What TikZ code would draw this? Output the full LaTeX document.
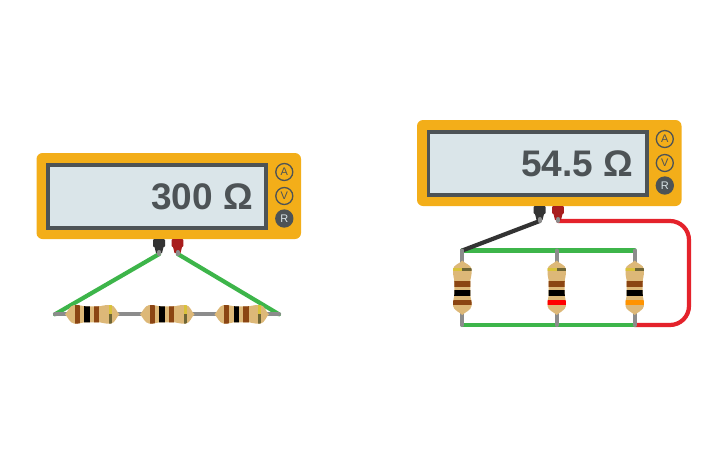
\documentclass[tikz,border=0pt]{standalone}
\usepackage{fontspec}
\setmainfont{Liberation Sans}
\pgfdeclarelayer{wires}
\pgfsetlayers{wires,main}
\definecolor{mbody}{HTML}{F3AE19}
\definecolor{mdark}{HTML}{4D5356}
\definecolor{mscreen}{HTML}{DAE5E9}
\definecolor{rtan}{HTML}{DDB878}
\definecolor{rbrown}{HTML}{8B4513}
\definecolor{rgold}{HTML}{D9C23A}
\definecolor{rdarkgold}{HTML}{6E6535}
\definecolor{rred}{HTML}{FF0000}
\definecolor{rorange}{HTML}{FF9300}
\definecolor{lead}{HTML}{8C8C8C}
\definecolor{wgreen}{HTML}{3DB54A}
\definecolor{wred}{HTML}{E4222B}
\definecolor{wblack}{HTML}{333333}
\definecolor{pblack}{HTML}{333333}
\definecolor{pred}{HTML}{A81C1C}
\newcommand{\resshape}{(0,0) .. controls (2,-1.5) and (5,-9.2) .. (9,-9.2)
  -- (13,-9.2) .. controls (16,-9.2) and (17,-8) .. (21,-8)
  -- (33,-8) .. controls (37,-8) and (38,-9.2) .. (41,-9.2)
  -- (46,-9.2) .. controls (50,-9.2) and (52,-1.5) .. (54.5,0)
  .. controls (52,1.5) and (50,9.2) .. (46,9.2)
  -- (41,9.2) .. controls (38,9.2) and (37,8) .. (33,8)
  -- (21,8) .. controls (17,8) and (16,9.2) .. (13,9.2)
  -- (9,9.2) .. controls (5,9.2) and (2,1.5) .. (0,0) -- cycle}
\tikzset{
  x=1pt,y=-1pt,
  wire/.style={line width=4.2pt,line cap=round,line join=round},
  greenwire/.style={wire,wgreen},
  redwire/.style={wire,wred,rounded corners=19pt},
  blackwire/.style={wire,wblack},
  meterbody/.style={draw=none,fill=mbody,rounded corners=6pt,minimum width=264.5pt,minimum height=86pt,inner sep=0pt},
  meterscreen/.style={draw=mdark,line width=3.6pt,fill=mscreen,minimum width=218.4pt,minimum height=63.4pt,inner sep=0pt},
  readout/.style={text=mdark,font=\bfseries\fontsize{37}{37}\selectfont,anchor=east,inner sep=0pt},
  modeoff/.style={circle,draw=mdark,line width=1.3pt,text=mdark,font=\fontsize{11}{11}\selectfont,minimum size=17pt,inner sep=0pt},
  modeon/.style={modeoff,fill=mdark,text=mscreen},
  pics/resistor/.style={code={
    \draw[lead,line width=4pt,line cap=round] (-10,0) coordinate (-a) -- (64.5,0) coordinate (-b);
    \fill[rtan] \resshape;
    \begin{scope}
      \clip \resshape;
      \fill[#1] (9.7,-10) rectangle (14.9,10);
      \fill[black] (19,-10) rectangle (24.6,10);
      \fill[rbrown] (28.5,-10) rectangle (34.1,10);
      \fill[rgold] (43.8,-10) rectangle (46.8,0);
      \fill[rdarkgold] (43.8,0) rectangle (46.8,10);
    \end{scope}
  }},
  pics/meter/.style={code={
    \node[meterbody] (-body) at (132.25,43) {};
    \node[meterscreen] (-screen) at (120.5,43.5) {};
    \node[readout] (-read) at (216.5,43.5) {#1};
    \node[modeoff] (-a) at (247.8,19) {A};
    \node[modeoff] (-v) at (247.8,43) {V};
    \node[modeon] (-r) at (247.8,65.5) {R};
    \fill[pblack,rounded corners=1pt] (116.5,86) rectangle (128.5,94);
    \fill[pblack] (118,94) -- (127,94) -- (125.5,100) -- (119.5,100) -- cycle;
    \fill[pred,rounded corners=1pt] (135.2,86) rectangle (146.8,94);
    \fill[pred] (136.5,94) -- (145.5,94) -- (144,100) -- (138,100) -- cycle;
    \draw[lead,line width=4pt,line cap=round] (122.7,99) -- (122.7,101) coordinate (-blacktip);
    \draw[lead,line width=4pt,line cap=round] (141.3,99) -- (141.3,101) coordinate (-redtip);
  }}
}
\begin{document}
\begin{tikzpicture}
\useasboundingbox (0,0) rectangle (725,453);
% left circuit
\pic (m1) at (36.5,153) {meter={300 Ω}};
\pic (r1) at (65,314.3) {resistor=rbrown};
\pic (r2) at (140,314.3) {resistor=rbrown};
\pic (r3) at (214.5,314.3) {resistor=rbrown};
% right circuit
\pic (m2) at (417,120) {meter={54.5 Ω}};
\pic[rotate=90] (r4) at (462.3,315) {resistor=rbrown};
\pic[rotate=90] (r5) at (556.7,315) {resistor=rred};
\pic[rotate=90] (r6) at (634.7,315) {resistor=rorange};
\coordinate (c1) at (689,221);
\begin{pgfonlayer}{wires}
\draw[greenwire] (m1-blacktip) -- (r1-a);
\draw[greenwire] (m1-redtip) -- (r3-b);
\draw[redwire] (m2-redtip) -- (c1 |- m2-redtip) -- (c1 |- r6-a) -- (r6-a);
\draw[greenwire] (r4-b) -- (r5-b) -- (r6-b);
\draw[greenwire] (r4-a) -- (r5-a) -- (r6-a);
\draw[blackwire] (m2-blacktip) -- (r4-b);
\end{pgfonlayer}
\end{tikzpicture}
\end{document}
